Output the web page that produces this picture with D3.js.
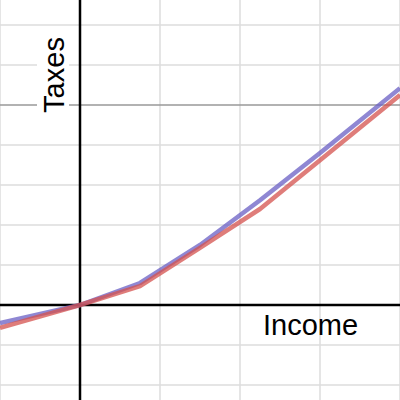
<!DOCTYPE html>
<html><head><meta charset="utf-8">
<script src="https://cdn.jsdelivr.net/npm/d3@7"></script>
<style>body{margin:0;background:#fff}</style>
</head><body><div id="chart"></div>
<script>
// data (x = income, y = taxes, grid units)
const incomes = [-1, 0, 0.75, 1.5, 2.25, 3, 4];
const taxesBlue = [-0.45, 0, 0.55, 1.5, 2.62, 3.8, 5.42];
const taxesRed = [-0.57, 0, 0.47, 1.43, 2.4, 3.62, 5.25];
const xTicks = [-1, 0, 1, 2, 3, 4];
const yTicks = [-2, -1, 0, 1, 2, 3, 4, 5, 6, 7];

const width = 400, height = 400;
const x = d3.scaleLinear().domain([-1, 4]).range([0, width]);
const y = d3.scaleLinear().domain([-2.375, 7.625]).range([height, 0]);

const svg = d3.select("#chart").append("svg")
  .attr("width", width).attr("height", height);

// grid
svg.append("g").selectAll("line").data(xTicks.filter(d => d !== 0)).enter()
  .append("line")
  .attr("x1", d => x(d)).attr("x2", d => x(d))
  .attr("y1", 0).attr("y2", height)
  .attr("stroke", "#dcdcdc").attr("stroke-width", 1.5);
svg.append("g").selectAll("line").data(yTicks.filter(d => d !== 0)).enter()
  .append("line")
  .attr("x1", 0).attr("x2", width)
  .attr("y1", d => y(d)).attr("y2", d => y(d))
  .attr("stroke", d => d === 5 ? "#999" : "#dcdcdc").attr("stroke-width", 1.5);

// axes
svg.append("line").attr("x1", 0).attr("x2", width)
  .attr("y1", y(0)).attr("y2", y(0)).attr("stroke", "#000").attr("stroke-width", 2.5);
svg.append("line").attr("x1", x(0)).attr("x2", x(0))
  .attr("y1", 0).attr("y2", height).attr("stroke", "#000").attr("stroke-width", 2.5);

const line = d3.line().x((d, i) => x(incomes[i])).y(d => y(d));

svg.append("path").datum(taxesBlue).attr("d", line)
  .attr("fill", "none").attr("stroke", "#6a5fc4").attr("stroke-opacity", 0.75)
  .attr("stroke-width", 4.5).attr("stroke-linejoin", "round");
svg.append("path").datum(taxesRed).attr("d", line)
  .attr("fill", "none").attr("stroke", "#d4524e").attr("stroke-opacity", 0.75)
  .attr("stroke-width", 4.5).attr("stroke-linejoin", "round");

// labels
const tg = svg.append("g").attr("transform", "translate(64,75) rotate(-90)");
tg.append("rect").attr("x", -40).attr("y", -27).attr("width", 80).attr("height", 32).attr("fill", "#fff");
tg.append("text").attr("text-anchor", "middle")
  .attr("font-family", "Liberation Sans, Arial, sans-serif").attr("font-size", 29)
  .text("Taxes");

svg.append("text").attr("x", 263).attr("y", 335)
  .attr("font-family", "Liberation Sans, Arial, sans-serif").attr("font-size", 29)
  .text("Income");
</script></body></html>
